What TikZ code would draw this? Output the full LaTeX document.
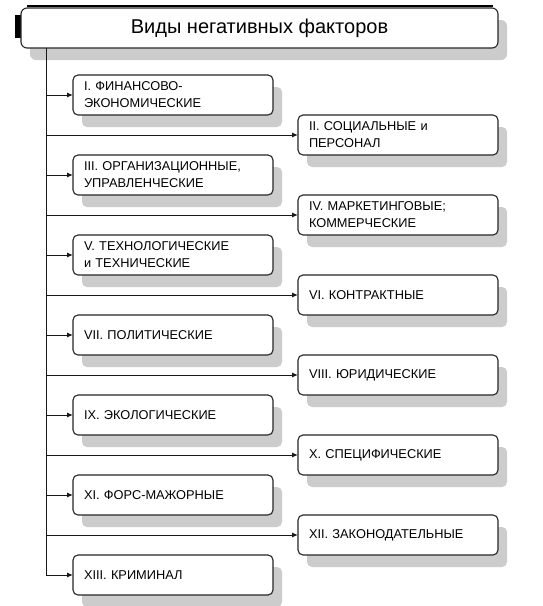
\documentclass[tikz,border=0pt]{standalone}
\usepackage{fontspec}
\setmainfont{Liberation Sans}
\usetikzlibrary{positioning, arrows.meta, shadows}

\begin{document}
\begin{tikzpicture}[x=1pt, y=-1pt, node distance=40pt,
    >={Latex[length=6pt, width=5pt]},
    shade box/.style={drop shadow={shadow xshift=9pt, shadow yshift=-12pt,
        opacity=1, fill=black!20}},
    header/.style={draw=black!85, line width=1.1pt, rounded corners=6pt, fill=white,
        minimum width=477pt, minimum height=40pt, outer sep=0pt,
        font=\fontsize{20}{24}\selectfont, shade box},
    factor/.style={draw=black!85, line width=1.1pt, rounded corners=5pt, fill=white,
        minimum height=40pt, text width=178pt, inner xsep=11pt, inner ysep=2pt,
        outer sep=0pt, align=left, font=\fontsize{12.8}{17}\selectfont, shade box},
    branch/.style={->, line width=1pt, black!90}]
        % Frame of the picture
        \useasboundingbox (0,0) rectangle (543,606);
        \fill[white] (0,0) rectangle (543,606);

        % Cut edge at the top
        \draw[line width=1.8pt] (27,6) -- (493,6);

        % Title with its dark side bar
        \fill[black] (15,15) rectangle (22,38);
        \node[header] (title) at (259.5,28) {Виды негативных факторов};

        % Left column of factors
        \node[factor] (f1) at (173,95) {I. ФИНАНСОВО-\\ЭКОНОМИЧЕСКИЕ};
        \node[factor, below=of f1] (f3) {III. ОРГАНИЗАЦИОННЫЕ,\\УПРАВЛЕНЧЕСКИЕ};
        \node[factor, below=of f3] (f5) {V. ТЕХНОЛОГИЧЕСКИЕ\\и ТЕХНИЧЕСКИЕ};
        \node[factor, below=of f5] (f7) {VII. ПОЛИТИЧЕСКИЕ};
        \node[factor, below=of f7] (f9) {IX. ЭКОЛОГИЧЕСКИЕ};
        \node[factor, below=of f9] (f11) {XI. ФОРС-МАЖОРНЫЕ};
        \node[factor, below=of f11] (f13) {XIII. КРИМИНАЛ};

        % Right column of factors
        \node[factor] (f2) at (398,135) {II. СОЦИАЛЬНЫЕ и\\ПЕРСОНАЛ};
        \node[factor, below=of f2] (f4) {IV. МАРКЕТИНГОВЫЕ;\\КОММЕРЧЕСКИЕ};
        \node[factor, below=of f4] (f6) {VI. КОНТРАКТНЫЕ};
        \node[factor, below=of f6] (f8) {VIII. ЮРИДИЧЕСКИЕ};
        \node[factor, below=of f8] (f10) {X. СПЕЦИФИЧЕСКИЕ};
        \node[factor, below=of f10] (f12) {XII. ЗАКОНОДАТЕЛЬНЫЕ};

        % Trunk line and branches
        \coordinate (trunk) at (46,48);
        \draw[branch] (trunk) |- (f13.west);
        \draw[branch] (trunk |- f1.west) -- (f1.west);
        \draw[branch] (trunk |- f2.west) -- (f2.west);
        \draw[branch] (trunk |- f3.west) -- (f3.west);
        \draw[branch] (trunk |- f4.west) -- (f4.west);
        \draw[branch] (trunk |- f5.west) -- (f5.west);
        \draw[branch] (trunk |- f6.west) -- (f6.west);
        \draw[branch] (trunk |- f7.west) -- (f7.west);
        \draw[branch] (trunk |- f8.west) -- (f8.west);
        \draw[branch] (trunk |- f9.west) -- (f9.west);
        \draw[branch] (trunk |- f10.west) -- (f10.west);
        \draw[branch] (trunk |- f11.west) -- (f11.west);
        \draw[branch] (trunk |- f12.west) -- (f12.west);
\end{tikzpicture}
\end{document}
